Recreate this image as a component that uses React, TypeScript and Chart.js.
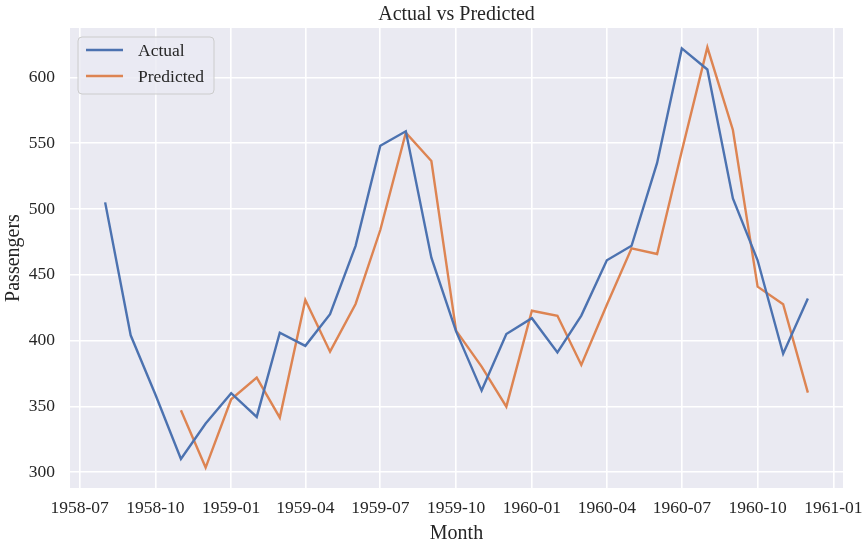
import React, { useEffect, useRef } from "react";
import { Chart, registerables } from "chart.js";

Chart.register(...registerables);

const actualMonths = [
  "1958-08", "1958-09", "1958-10", "1958-11", "1958-12",
  "1959-01", "1959-02", "1959-03", "1959-04", "1959-05", "1959-06",
  "1959-07", "1959-08", "1959-09", "1959-10", "1959-11", "1959-12",
  "1960-01", "1960-02", "1960-03", "1960-04", "1960-05", "1960-06",
  "1960-07", "1960-08", "1960-09", "1960-10", "1960-11", "1960-12",
];
const actualValues = [
  505, 404, 359, 310, 337,
  360, 342, 406, 396, 420, 472, 548, 559, 463, 407, 362, 405,
  417, 391, 419, 461, 472, 535, 622, 606, 508, 461, 390, 432,
];
const predictedMonths = [
  "1958-11", "1958-12",
  "1959-01", "1959-02", "1959-03", "1959-04", "1959-05", "1959-06",
  "1959-07", "1959-08", "1959-09", "1959-10", "1959-11", "1959-12",
  "1960-01", "1960-02", "1960-03", "1960-04", "1960-05", "1960-06",
  "1960-07", "1960-08", "1960-09", "1960-10", "1960-11", "1960-12",
];
const predictedValues = [
  347, 303.5,
  355.4, 371.9, 341.5, 430.9, 391.6, 427.8, 484, 557.9, 536.4, 407.6, 380.2, 349.8,
  422.7, 418.9, 381.5, 427.3, 470.1, 465.8, 544, 622.8, 560, 441, 427.6, 360.5,
];
const xTickLabels = [
  "1958-07", "1958-10", "1959-01", "1959-04", "1959-07",
  "1959-10", "1960-01", "1960-04", "1960-07", "1960-10", "1961-01",
];
const yTickValues = [300, 350, 400, 450, 500, 550, 600];

const FONT = "'Liberation Serif', 'Times New Roman', serif";
const TEXT = "#262626";

function toDays(m: string): number {
  const [y, mo] = m.split("-").map(Number);
  return Date.UTC(y, mo - 1, 1) / 86400000;
}

export default function App() {
  const ref = useRef<HTMLCanvasElement | null>(null);

  useEffect(() => {
    document.body.style.margin = "0";
    const canvas = ref.current;
    if (!canvas) return;

    const firstDay = toDays(actualMonths[0]);
    const lastDay = toDays(actualMonths[actualMonths.length - 1]);
    const margin = (lastDay - firstDay) * 0.05;

    const bgPlugin = {
      id: "bg",
      beforeDraw(chart: any) {
        const { ctx, chartArea } = chart;
        ctx.save();
        ctx.fillStyle = "#EAEAF2";
        ctx.fillRect(chartArea.left, chartArea.top, chartArea.right - chartArea.left, chartArea.bottom - chartArea.top);
        ctx.restore();
      },
    };

    const textPlugin = {
      id: "texts",
      afterDraw(chart: any) {
        const { ctx, chartArea } = chart;
        const cx = (chartArea.left + chartArea.right) / 2;
        const cy = (chartArea.top + chartArea.bottom) / 2;
        ctx.save();
        ctx.fillStyle = TEXT;
        ctx.textAlign = "center";
        ctx.textBaseline = "alphabetic";
        ctx.font = `20px ${FONT}`;
        ctx.fillText("Actual vs Predicted", cx, 20);
        ctx.fillText("Month", cx, 539);
        ctx.save();
        ctx.translate(19, cy);
        ctx.rotate(-Math.PI / 2);
        ctx.fillText("Passengers", 0, 0);
        ctx.restore();

        // legend
        const lx = 78, ly = 37, lw = 136, lh = 57, r = 4;
        ctx.beginPath();
        ctx.moveTo(lx + r, ly);
        ctx.lineTo(lx + lw - r, ly);
        ctx.quadraticCurveTo(lx + lw, ly, lx + lw, ly + r);
        ctx.lineTo(lx + lw, ly + lh - r);
        ctx.quadraticCurveTo(lx + lw, ly + lh, lx + lw - r, ly + lh);
        ctx.lineTo(lx + r, ly + lh);
        ctx.quadraticCurveTo(lx, ly + lh, lx, ly + lh - r);
        ctx.lineTo(lx, ly + r);
        ctx.quadraticCurveTo(lx, ly, lx + r, ly);
        ctx.closePath();
        ctx.fillStyle = "rgba(234,234,242,0.8)";
        ctx.fill();
        ctx.strokeStyle = "#CCCCCC";
        ctx.lineWidth = 1;
        ctx.stroke();

        const items = chart.data.datasets.map((d: any) => ({ label: d.label, color: d.borderColor }));
        items.forEach((it: any, i: number) => {
          const y = 50 + i * 26;
          ctx.strokeStyle = it.color;
          ctx.lineWidth = 2.4;
          ctx.beginPath();
          ctx.moveTo(86, y);
          ctx.lineTo(123, y);
          ctx.stroke();
          ctx.fillStyle = TEXT;
          ctx.textAlign = "left";
          ctx.font = `17.5px ${FONT}`;
          ctx.fillText(it.label, 138, y + 6);
        });
        ctx.restore();
      },
    };

    const chart = new Chart(canvas, {
      type: "line",
      data: {
        datasets: [
          {
            label: "Actual",
            data: actualMonths.map((m, i) => ({ x: toDays(m), y: actualValues[i] })),
            borderColor: "#4C72B0",
            backgroundColor: "#4C72B0",
            borderWidth: 2.4,
            pointRadius: 0,
            tension: 0,
          },
          {
            label: "Predicted",
            data: predictedMonths.map((m, i) => ({ x: toDays(m), y: predictedValues[i] })),
            borderColor: "#DD8452",
            backgroundColor: "#DD8452",
            borderWidth: 2.4,
            pointRadius: 0,
            tension: 0,
          },
        ],
      },
      options: {
        animation: false,
        responsive: false,
        layout: { padding: { top: 28, right: 25, left: 0, bottom: 0 } },
        plugins: {
          legend: { display: false },
          title: { display: false },
          tooltip: { enabled: false },
        },
        scales: {
          x: {
            type: "linear",
            min: firstDay - margin,
            max: lastDay + margin,
            afterBuildTicks(scale: any) {
              scale.ticks = xTickLabels.map((l) => ({ value: toDays(l) }));
            },
            afterFit(scale: any) {
              scale.height = 56;
              scale.paddingLeft = 0;
              scale.paddingRight = 0;
            },
            ticks: {
              autoSkip: false,
              maxRotation: 0,
              minRotation: 0,
              padding: 10,
              color: TEXT,
              font: { family: FONT, size: 17.5 },
              callback(value: any) {
                const idx = xTickLabels.findIndex((l) => Math.abs(toDays(l) - Number(value)) < 0.5);
                return idx >= 0 ? xTickLabels[idx] : "";
              },
            },
            grid: { color: "#FFFFFF", lineWidth: 1.6, drawTicks: false },
            border: { display: false },
          },
          y: {
            type: "linear",
            min: 288,
            max: 637.5,
            afterBuildTicks(scale: any) {
              scale.ticks = yTickValues.map((v) => ({ value: v }));
            },
            afterFit(scale: any) {
              scale.width = 70;
              scale.paddingTop = 0;
              scale.paddingBottom = 0;
            },
            ticks: {
              padding: 15,
              color: TEXT,
              font: { family: FONT, size: 17.5 },
            },
            grid: { color: "#FFFFFF", lineWidth: 1.6, drawTicks: false },
            border: { display: false },
          },
        },
      },
      plugins: [bgPlugin, textPlugin],
    });

    return () => chart.destroy();
  }, []);

  return (
    <div style={{ width: 868, height: 544, background: "#FFFFFF" }}>
      <canvas ref={ref} width={868} height={544} style={{ display: "block" }} />
    </div>
  );
}
